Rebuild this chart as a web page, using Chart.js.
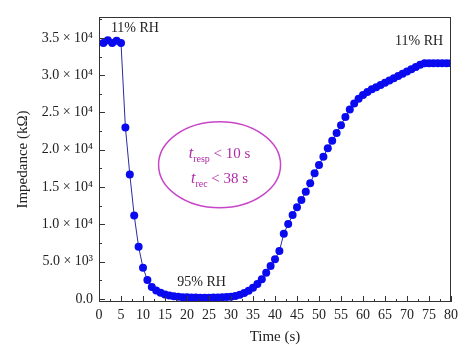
<!DOCTYPE html>
<html>
<head>
<meta charset="utf-8">
<script src="https://cdn.jsdelivr.net/npm/chart.js@4/dist/chart.umd.min.js"></script>
<style>
  html, body { margin: 0; padding: 0; background: #fff; }
  #wrap { width: 474px; height: 361px; }
</style>
</head>
<body>
<div id="wrap"><canvas id="impedance"></canvas></div>
<script>
//----------------------
// Data
//----------------------

const times = [];
for (let t = 1; t <= 80; t++) times.push(t);

const impedance = [
  34300, 34700, 34300, 34600, 34300, 23000, 16700, 11200, 7000, 4200,
  2550, 1600, 1150, 850, 620, 470, 370, 300, 250, 220,
  200, 190, 180, 180, 180, 190, 200, 220, 260, 320,
  420, 580, 800, 1100, 1500, 2000, 2640, 3530, 4420, 5320,
  6430, 8750, 10050, 11260, 12290, 13270, 14380, 15500, 16850, 17960,
  19080, 20200, 21220, 22250, 23300, 24400, 25400, 26200, 26850, 27350,
  27750, 28100, 28400, 28700, 29000, 29300, 29600, 29900, 30200, 30500,
  30800, 31100, 31400, 31600, 31600, 31600, 31600, 31600, 31600, 31600
];

const xTicks = [0, 5, 10, 15, 20, 25, 30, 35, 40, 45, 50, 55, 60, 65, 70, 75, 80];
const yTicks = [0, 5000, 10000, 15000, 20000, 25000, 30000, 35000];
const yTickLabels = ['0.0', '5.0 × 10³', '1.0 × 10⁴', '1.5 × 10⁴', '2.0 × 10⁴', '2.5 × 10⁴', '3.0 × 10⁴', '3.5 × 10⁴'];

const serif = "'Liberation Serif', 'DejaVu Serif', serif";

//----------------------
// Box, inward ticks and the notes on the plot
//----------------------

const framePlugin = {
  id: 'frame',
  afterDraw(chart) {
    const ctx = chart.ctx;
    const a = chart.chartArea;
    const x = chart.scales.x;
    const y = chart.scales.y;
    ctx.save();
    ctx.strokeStyle = '#333';
    ctx.lineWidth = 1;
    ctx.strokeRect(a.left + 0.5, a.top + 0.5, a.right - a.left - 1, a.bottom - a.top - 1);

    ctx.beginPath();
    for (let v = 0; v <= 80; v += 2.5) { // x ticks pointing up
      const px = Math.round(x.getPixelForValue(v)) + 0.5;
      const len = (v % 5 === 0) ? 6 : 3;
      ctx.moveTo(px, a.bottom);
      ctx.lineTo(px, a.bottom - len);
    }
    for (let v = 0; v <= 37500; v += 2500) { // y ticks pointing right
      const py = Math.round(y.getPixelForValue(v)) + 0.5;
      const len = (v % 5000 === 0) ? 6 : 3;
      ctx.moveTo(a.left, py);
      ctx.lineTo(a.left + len, py);
    }
    ctx.stroke();

    // humidity notes
    ctx.fillStyle = '#222';
    ctx.font = '14px ' + serif;
    ctx.textBaseline = 'middle';
    ctx.textAlign = 'left';
    ctx.fillText('11% RH', x.getPixelForValue(2.7), y.getPixelForValue(36300));
    ctx.textAlign = 'right';
    ctx.fillText('11% RH', x.getPixelForValue(78.2), y.getPixelForValue(34500));
    ctx.textAlign = 'center';
    ctx.fillText('95% RH', x.getPixelForValue(23.3), y.getPixelForValue(2300));

    // response / recovery ellipse
    const cx = x.getPixelForValue(27.4);
    const cy = y.getPixelForValue(18000);
    ctx.strokeStyle = '#c845c8';
    ctx.lineWidth = 1.5;
    ctx.beginPath();
    ctx.ellipse(cx, cy, 61, 43, 0, 0, Math.PI * 2);
    ctx.stroke();

    ctx.fillStyle = '#b02aa8';
    ctx.textBaseline = 'alphabetic';
    ctx.textAlign = 'left';
    const rows = [['resp', ' < 10 s', -7], ['rec', ' < 38 s', 18]];
    rows.forEach(r => {
      ctx.font = 'italic 16px ' + serif;
      const w1 = ctx.measureText('t').width;
      ctx.font = '10px ' + serif;
      const w2 = ctx.measureText(r[0]).width;
      ctx.font = '15px ' + serif;
      const w3 = ctx.measureText(r[1]).width;
      let sx = cx - (w1 + w2 + w3) / 2;
      const by = cy + r[2];
      ctx.font = 'italic 16px ' + serif;
      ctx.fillText('t', sx, by);
      sx += w1;
      ctx.font = '10px ' + serif;
      ctx.fillText(r[0], sx, by + 4);
      sx += w2;
      ctx.font = '15px ' + serif;
      ctx.fillText(r[1], sx, by);
    });
    ctx.restore();
  }
};

//----------------------
// Chart
//----------------------

const ctx = document.getElementById('impedance').getContext('2d');
const chart = new Chart(ctx, {
  type: 'line',
  data: {
    labels: times,
    datasets: [{
      data: times.map((t, i) => ({ x: t, y: impedance[i] })),
      borderColor: '#2b2ba0',
      borderWidth: 1,
      pointBackgroundColor: '#0a0af0',
      pointBorderColor: '#0a0af0',
      pointRadius: 4,
      pointBorderWidth: 0,
      tension: 0
    }]
  },
  options: {
    responsive: true,
    maintainAspectRatio: false,
    animation: false,
    layout: { padding: { top: 17, right: 23, left: 0, bottom: 0 } },
    plugins: {
      legend: { display: false },
      tooltip: { enabled: false }
    },
    scales: {
      x: {
        type: 'linear',
        min: 0,
        max: 80,
        grid: { display: false, drawTicks: false },
        border: { display: false },
        afterBuildTicks: s => { s.ticks = xTicks.map(v => ({ value: v })); },
        afterFit: s => { s.height = 59; },
        ticks: {
          padding: 5,
          color: '#222',
          font: { family: serif, size: 14 },
          maxRotation: 0,
          autoSkip: false
        },
        title: {
          display: true,
          text: 'Time (s)',
          color: '#222',
          font: { family: serif, size: 15 },
          padding: { top: 0, bottom: 15 }
        }
      },
      y: {
        min: -400,
        max: 37800,
        grid: { display: false, drawTicks: false },
        border: { display: false },
        afterBuildTicks: s => { s.ticks = yTicks.map(v => ({ value: v })); },
        afterFit: s => { s.width = 99; },
        ticks: {
          padding: 6,
          color: '#222',
          font: { family: serif, size: 14 },
          autoSkip: false,
          callback: v => yTickLabels[yTicks.indexOf(v)]
        },
        title: {
          display: true,
          text: 'Impedance (kΩ)',
          color: '#222',
          font: { family: serif, size: 15 },
          padding: { top: 14, bottom: 0 }
        }
      }
    }
  },
  plugins: [framePlugin]
});
</script>
</body>
</html>
